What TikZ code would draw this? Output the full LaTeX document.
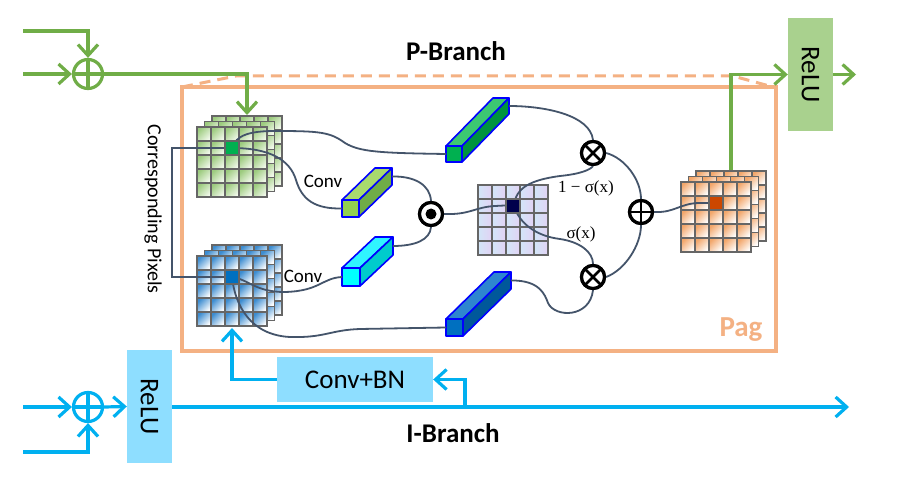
\documentclass[tikz,border=0pt]{standalone}
\usepackage{fontspec}
\setmainfont{Carlito}
\newfontfamily\sigfont{Liberation Serif}
\usetikzlibrary{arrows.meta}
\definecolor{pgreen}{HTML}{70AD47}
\definecolor{iblue}{HTML}{00B0F0}
\definecolor{pagor}{HTML}{F4B183}
\definecolor{relug}{HTML}{A9D18E}
\definecolor{relub}{HTML}{8EDEFF}
\definecolor{conn}{HTML}{44546A}
\definecolor{gridc}{HTML}{666666}
\definecolor{cgreen}{HTML}{9CCB7E}
\definecolor{cgreenB}{HTML}{F2F9EC}
\definecolor{cblue}{HTML}{3C8CD0}
\definecolor{cpurpleA}{HTML}{D2E6F8}
\definecolor{cpurpleB}{HTML}{E2D2F4}
\definecolor{corange}{HTML}{F2A66A}
\definecolor{bgF}{HTML}{00B050}
\definecolor{bgT}{HTML}{3CC872}
\definecolor{bgS}{HTML}{00943E}
\definecolor{sgF}{HTML}{92D050}
\definecolor{sgT}{HTML}{A8DA6E}
\definecolor{sgS}{HTML}{70AD47}
\definecolor{cyF}{HTML}{00FFFF}
\definecolor{cyT}{HTML}{30F4FF}
\definecolor{cyS}{HTML}{00CCCC}
\definecolor{bbF}{HTML}{0070C0}
\definecolor{bbT}{HTML}{2E86CF}
\definecolor{bbS}{HTML}{00589A}
\newcommand\fsz[1]{\fontsize{#1}{#1}\selectfont}
\newcommand\fmap[5]{%
  \foreach \k in {#5,...,0}{%
    \foreach \i in {0,...,4}{%
      \foreach \j in {0,...,4}{%
        \shade[cellst, top color=#3, bottom color=#4, shading angle=45]
          ({#1+7.5*\k+14*\i},{#2-5.5*\k+14*\j}) rectangle ++(14,14);
      }}}%
}
\newcommand\cuboid[8]{%
  \filldraw[cubest, fill=#6] (#1,#2) rectangle ++(#3,#3);
  \filldraw[cubest, fill=#7] (#1,#2) -- ++(#3,0) -- ++(#4,#5) -- ++(-#3,0) -- cycle;
  \filldraw[cubest, fill=#8] ({#1+#3},#2) -- ++(0,#3) -- ++(#4,#5) -- ++(0,-#3) -- cycle;
}
\begin{document}
\begin{tikzpicture}[x=1pt,y=-1pt,
  cellst/.style={draw=gridc, line width=1.5pt},
  cubest/.style={draw=blue, line width=1.6pt, line join=round},
  garrow/.style={draw=pgreen, line width=3.2pt, -{Straight Barb[length=11pt,width=20pt]}},
  barrow/.style={draw=iblue, line width=3.2pt, -{Straight Barb[length=11pt,width=20pt]}},
  cn/.style={draw=conn, line width=1.8pt},
  op/.style={circle, draw=black, line width=3.2pt, minimum size=23pt, inner sep=0pt, fill=white},
  otimesst/.style={op, path picture={\draw[line width=2.8pt]
     (path picture bounding box.north west) -- (path picture bounding box.south east)
     (path picture bounding box.north east) -- (path picture bounding box.south west);}},
  oplusst/.style={op, path picture={\draw[line width=2.8pt]
     (path picture bounding box.north) -- (path picture bounding box.south)
     (path picture bounding box.east) -- (path picture bounding box.west);}},
  odotst/.style={op, path picture={\fill[black] (path picture bounding box.center) circle (5.5pt);}},
  plusring/.style={circle, line width=3.2pt, minimum size=29pt, inner sep=0pt, path picture={\draw[line width=3.2pt, #1]
     (path picture bounding box.north) -- (path picture bounding box.south)
     (path picture bounding box.east) -- (path picture bounding box.west);}},
  box/.style={inner sep=0pt}
]
\useasboundingbox (0,0) rectangle (897,486);
\fill[white] (0,0) rectangle (897,486);

% Pag box and dashed lid
\draw[pagor, line width=3pt, dash pattern=on 11pt off 7pt] (182,87) -- (236,76) -- (733,76) -- (773,87);
\draw[pagor, line width=3.4pt] (182,87) rectangle (776,351);
\node[font=\fsz{29}\bfseries, text=pagor, anchor=base west] (pag) at (716,337) {Pag};

% P-branch (green)
\node[plusring=pgreen, draw=pgreen] (gp) at (88,74) {};
\coordinate (gin1) at (23,31);
\coordinate (gin2) at (23,74);
\coordinate (gtop) at (247,115);
\draw[garrow] (gin1) -| (gp.north);
\draw[garrow] (gin2) -- (gp.west);
\draw[garrow] (gp.east) -| (gtop);
\node[box, fill=relug, minimum width=45pt, minimum height=113pt] (gr) at (810.5,74.5) {};
\node[rotate=-90, font=\fsz{27}] at (gr) {ReLU};
\coordinate (otopc) at (731,176);
\coordinate (gout) at (856,74.5);
\draw[garrow] (otopc) |- (gr.west);
\draw[garrow] (gr.east) -- (gout);
\node[font=\fsz{27}\bfseries, anchor=base] (pb) at (456,61) {P-Branch};

% I-branch (blue)
\node[plusring=iblue, draw=iblue] (bp) at (88,407) {};
\coordinate (bin1) at (23,407);
\coordinate (bin2) at (23,452);
\draw[barrow] (bin1) -- (bp.west);
\draw[barrow] (bin2) -| (bp.south);
\node[box, fill=relub, minimum width=45pt, minimum height=113pt] (br) at (149.5,406.5) {};
\node[rotate=-90, font=\fsz{27}] at (br) {ReLU};
\draw[barrow] (bp.east) -- (br.west);
\coordinate (bout) at (849,407);
\draw[barrow] (br.east |- bp.east) -- (bout);
\node[box, fill=relub, minimum width=156pt, minimum height=45pt, font=\fsz{27}] (cbn) at (355,379.5) {Conv+BN};
\coordinate (bsplit) at (465,407);
\coordinate (bbot) at (232,328);
\draw[barrow] (bsplit) |- (cbn.east);
\draw[barrow] (cbn.west) -| (bbot);
\node[font=\fsz{27}\bfseries, anchor=base] (ib) at (453,442) {I-Branch};

% feature maps
\fmap{197}{127}{cgreen}{cgreenB}{2}
\fmap{197}{256}{cblue}{white}{2}
\foreach \i in {0,...,4}{\foreach \j in {0,...,4}{%
  \shade[cellst, left color=cpurpleA, right color=cpurpleB]
     ({478+14*\i},{185+14*\j}) rectangle ++(14,14);}}
\fmap{681}{182}{corange}{white}{2}

% cuboids
\cuboid{446}{146}{16}{47}{-48}{bgF}{bgT}{bgS}
\cuboid{342}{200}{17}{33}{-32}{sgF}{sgT}{sgS}
\cuboid{342}{268}{18}{33}{-31}{cyF}{cyT}{cyS}
\cuboid{446}{319}{17}{48}{-47}{bbF}{bbT}{bbS}

% named points
\coordinate (gpx) at (232,148);
\coordinate (bpx) at (232,277);
\coordinate (ppx) at (514,205);
\coordinate (opx) at (716,203);
\coordinate (gcF) at (446,154);
\coordinate (gcB) at (509,106);
\coordinate (sgF) at (342,208.5);
\coordinate (sgB) at (392,176.5);
\coordinate (cyF) at (342,277);
\coordinate (cyB) at (393,246);
\coordinate (bbF) at (446,327.5);
\coordinate (bbB) at (511,280.5);
\coordinate (brk) at (172,210);

% operators
\node[odotst] (od) at (431,214) {};
\node[otimesst] (ot) at (593,153) {};
\node[otimesst] (ob) at (593,277) {};
\node[oplusst] (op) at (641,212) {};

% connectors
\draw[draw=conn, line width=1.2pt] (gpx) -| (brk) |- (bpx);
\draw[cn] (gpx) .. controls (236,135) and (250,131) .. (275,131) .. controls (320,131) and (330,132) .. (345,143) .. controls (360,152) and (380,153) .. (gcF);
\draw[cn] (gpx) .. controls (270,148) and (290,160) .. (296,180) .. controls (302,200) and (315,209) .. (sgF);
\draw[cn] (bpx) .. controls (250,280) and (255,292) .. (285,292) .. controls (320,291) and (322,278) .. (cyF);
\draw[cn] (bpx) .. controls (235,305) and (250,335) .. (290,337) .. controls (325,338) and (330,330) .. (360,329) -- (bbF);
\draw[cn] (sgB) .. controls (415,176) and (430,185) .. (od.north);
\draw[cn] (cyB) .. controls (415,246) and (430,240) .. (od.south);
\draw[cn] (od.east) .. controls (470,215) and (475,207) .. (495,206) -- (ppx);
\draw[cn] (ppx) .. controls (516,188) and (530,180) .. (560,176) .. controls (580,174) and (590,170) .. (ot.south);
\draw[cn] (ppx) .. controls (518,222) and (535,236) .. (560,239) .. controls (580,242) and (593,252) .. (ob.north);
\draw[cn] (gcB) .. controls (545,106) and (590,115) .. (ot.north);
\draw[cn] (bbB) .. controls (540,280) and (545,295) .. (548,303) .. controls (555,318) and (590,318) .. (ob.south);
\draw[cn] (ot.east) .. controls (625,158) and (641,180) .. (op.north);
\draw[cn] (ob.east) .. controls (625,270) and (641,245) .. (op.south);
\draw[cn] (op.east) .. controls (675,213) and (680,203) .. (700,203) -- (opx);

% highlighted pixels
\filldraw[cellst, fill=bgF] (225,141) rectangle ++(14,14);
\filldraw[cellst, fill=bbF] (225,270) rectangle ++(14,14);
\filldraw[cellst, fill=blue!30!black] (506,199) rectangle ++(14,14);
\filldraw[cellst, fill=orange!70!red!80!black] (709,196) rectangle ++(14,14);
\node[odotst] at (od) {};
\node[otimesst] at (ot) {};
\node[otimesst] at (ob) {};
\node[oplusst] at (op) {};

% labels
\node[font=\fsz{19}] (c1) at (323,181) {Conv};
\node[font=\fsz{19}] (c2) at (303,276) {Conv};
\node[font=\sigfont\fsz{17}] (s1) at (586,188) {1 − σ(x)};
\node[font=\sigfont\fsz{17}] (s2) at (581,234) {σ(x)};
\node[rotate=-90, font=\fsz{20}] (cp) at (153,209) {Corresponding Pixels};
\end{tikzpicture}
\end{document}
